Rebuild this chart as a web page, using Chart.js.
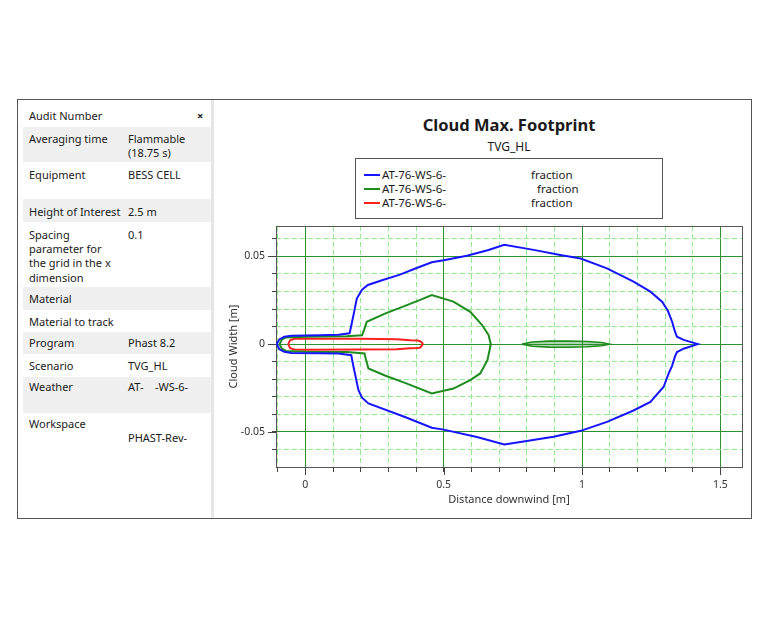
<!DOCTYPE html>
<html>
<head>
<meta charset="utf-8">
<script src="https://cdn.jsdelivr.net/npm/chart.js@4.4.1/dist/chart.umd.min.js"></script>
<style>
  body { margin: 0; background: #fff; font-family: "Noto Sans", sans-serif; color: #1a1a1a; }
  #page { position: relative; width: 768px; height: 618px; }
  #frame { position: absolute; left: 17px; top: 99px; width: 733px; height: 418px; border: 1px solid #555; }
  .row { position: absolute; left: 5px; width: 188px; }
  .row.gray { background: #f0f0f0; }
  .txt { position: absolute; font-size: 11px; line-height: 14.3px; white-space: nowrap; }
  .lbl { width: 92px; white-space: normal; }
  #sep { position: absolute; left: 193px; top: 0; width: 3px; height: 418px; background: #e6e6e6; }
  #title { position: absolute; left: 276px; width: 466px; top: 113px; text-align: center; font-weight: bold; font-size: 16.5px; }
  #subtitle { position: absolute; left: 276px; width: 466px; top: 138px; text-align: center; font-size: 12px; }
  #legend { position: absolute; left: 355px; top: 158px; width: 306px; height: 59px; border: 1px solid #555; }
  .leg { position: absolute; font-size: 11.5px; line-height: 14px; white-space: nowrap; }
  .sw { position: absolute; width: 16px; height: 2px; }
  #chartBox { position: absolute; left: 216px; top: 100px; }
</style>
</head>
<body>
<div id="page">
  <div id="frame"><div id="sep"></div></div>
  <div id="title">Cloud Max. Footprint</div>
  <div id="subtitle">TVG_HL</div>
  <div id="legend"></div>
  <div id="chartBox"><canvas id="footprintChart" width="535" height="417"></canvas></div>
</div>
<script>
// axis ticks (every minor tick gets a dashed grid line, majors are solid and labelled)
const xTickValues = [-0.1, 0, 0.1, 0.2, 0.3, 0.4, 0.5, 0.6, 0.7, 0.8, 0.9, 1, 1.1, 1.2, 1.3, 1.4, 1.5];
const xMajorValues = [0, 0.5, 1, 1.5];
const yTickValues = [-0.06, -0.05, -0.04, -0.03, -0.02, -0.01, 0, 0.01, 0.02, 0.03, 0.04, 0.05, 0.06];
const yMajorValues = [-0.05, 0, 0.05];

// contour of the blue series
const blueX = [-0.103, -0.094, -0.076, -0.05, 0.05, 0.12, 0.16, 0.168, 0.174, 0.186, 0.205, 0.226, 0.28, 0.342, 0.40, 0.457, 0.50, 0.584, 0.662, 0.719,
  0.825, 0.921, 0.995, 1.09, 1.186, 1.247, 1.29, 1.31, 1.325, 1.335, 1.343, 1.367, 1.418,
  1.367, 1.343, 1.336, 1.325, 1.313, 1.295, 1.247, 1.186, 1.09, 0.995, 0.897, 0.80, 0.719, 0.62, 0.50, 0.457, 0.36, 0.228, 0.205, 0.192, 0.174, 0.166,
  0.12, 0.05, -0.05, -0.076, -0.094, -0.103];
const blueY = [0, 0.0027, 0.0042, 0.0048, 0.0050, 0.0053, 0.0062, 0.012, 0.0165, 0.026, 0.031, 0.0337, 0.0365, 0.0396, 0.0432, 0.0466, 0.0478, 0.0503, 0.0536, 0.0566,
  0.0537, 0.0508, 0.0488, 0.0432, 0.0356, 0.0299, 0.024, 0.019, 0.013, 0.0075, 0.0042, 0.0024, 0,
  -0.0026, -0.0045, -0.007, -0.0125, -0.0167, -0.0243, -0.0329, -0.0378, -0.0443, -0.0494, -0.0528, -0.0552, -0.0572, -0.0529, -0.0487, -0.0476, -0.0415, -0.0338, -0.0305, -0.0262, -0.0129, -0.0063,
  -0.0054, -0.0052, -0.005, -0.0044, -0.0029, 0];

// contour of the green series
const greenX = [-0.093, -0.085, -0.07, 0, 0.15, 0.205, 0.212, 0.222, 0.29, 0.36, 0.415, 0.457, 0.535, 0.596, 0.638, 0.662, 0.67,
  0.668, 0.658, 0.632, 0.596, 0.535, 0.457, 0.36, 0.29, 0.228, 0.218, 0.214, 0.15, 0, -0.07, -0.085, -0.093];
const greenY = [0, 0.0025, 0.0038, 0.0042, 0.0045, 0.005, 0.008, 0.0127, 0.0175, 0.0218, 0.0252, 0.028, 0.0242, 0.0184, 0.011, 0.0052, 0,
  -0.0018, -0.0091, -0.0167, -0.0205, -0.0253, -0.0281, -0.0221, -0.018, -0.0139, -0.008, -0.0053, -0.0045, -0.0043, -0.0039, -0.0026, 0];

// detached green patch further downwind
const greenPatchX = [0.783, 0.82, 0.88, 0.95, 1.02, 1.07, 1.10, 1.07, 1.02, 0.95, 0.88, 0.82, 0.783];
const greenPatchY = [0, 0.0012, 0.0017, 0.0018, 0.0015, 0.0009, 0, -0.0009, -0.0015, -0.0018, -0.0017, -0.0012, 0];

// contour of the red series
const redX = [-0.062, -0.055, -0.04, 0, 0.2, 0.33, 0.38, 0.405, 0.415, 0.4235, 0.4235,
  0.415, 0.405, 0.38, 0.33, 0.2, 0, -0.04, -0.055, -0.062];
const redY = [0, 0.0022, 0.003, 0.0031, 0.003, 0.0028, 0.0022, 0.002, 0.0017, 0.0005, -0.0003,
  -0.002, -0.0022, -0.0024, -0.0029, -0.0031, -0.0032, -0.0031, -0.0023, 0];

const seriesNames = ['AT-76-WS-6-', 'AT-76-WS-6-', 'AT-76-WS-6-'];
const seriesColors = ['#1515ff', '#1e8c1e', '#ff1f1f'];

// property table on the left: label, value, row top, row height, gray, text centre, value centre
const tableRows = [
  ['Audit Number', '', 100, 27, false, 116, 116],
  ['Averaging time', 'Flammable\n(18.75 s)', 127, 35, true, 139, 139],
  ['Equipment', 'BESS CELL', 162, 37, false, 175, 175],
  ['Height of Interest', '2.5 m', 199, 23, true, 211.5, 211.5],
  ['Spacing parameter for the grid in the x dimension', '0.1', 222, 65, false, 234.7, 234.7],
  ['Material', '', 287, 23, true, 299, 299],
  ['Material to track', '', 310, 22, false, 321.5, 321.5],
  ['Program', 'Phast 8.2', 332, 22, true, 343.3, 343.3],
  ['Scenario', 'TVG_HL', 354, 23, false, 365.7, 365.7],
  ['Weather', 'AT-    -WS-6-', 377, 36, true, 387.3, 387.3],
  ['Workspace', 'PHAST-Rev-', 413, 104, false, 424, 437.7]
];

function buildTable() {
  const frame = document.getElementById('frame');
  tableRows.forEach(r => {
    const row = document.createElement('div');
    row.className = 'row' + (r[4] ? ' gray' : '');
    row.style.top = (r[2] - 100) + 'px';
    row.style.height = r[3] + 'px';
    frame.appendChild(row);
    const lbl = document.createElement('div');
    lbl.className = 'txt lbl';
    lbl.style.left = '11px';
    lbl.style.top = (r[5] - 7 - 100) + 'px';
    lbl.textContent = r[0];
    frame.appendChild(lbl);
    if (r[1]) {
      const val = document.createElement('div');
      val.className = 'txt';
      val.style.left = '110px';
      val.style.top = (r[6] - 7 - 100) + 'px';
      val.style.whiteSpace = 'pre';
      val.textContent = r[1];
      frame.appendChild(val);
    }
  });
  const close = document.createElement('div');
  close.className = 'txt';
  close.style.left = '179px';
  close.style.top = '9px';
  close.style.fontWeight = 'bold';
  close.textContent = '\u00d7';
  frame.appendChild(close);
}

function buildLegend() {
  const box = document.getElementById('legend');
  const suffixLeft = [175, 181, 175];
  seriesNames.forEach((name, i) => {
    const top = 9 + i * 14.2;
    const sw = document.createElement('div');
    sw.className = 'sw';
    sw.style.left = '8px';
    sw.style.top = (top + 6) + 'px';
    sw.style.background = seriesColors[i];
    box.appendChild(sw);
    const t = document.createElement('div');
    t.className = 'leg';
    t.style.left = '26px';
    t.style.top = top + 'px';
    t.textContent = name;
    box.appendChild(t);
    const f = document.createElement('div');
    f.className = 'leg';
    f.style.left = suffixLeft[i] + 'px';
    f.style.top = top + 'px';
    f.textContent = 'fraction';
    box.appendChild(f);
  });
}

const toPoints = (xs, ys) => xs.map((x, i) => ({ x: x, y: ys[i] }));
const isMajor = (list, v) => list.some(m => Math.abs(m - v) < 1e-9);

const majorGrid = 'rgb(45,145,45)';
const minorGrid = 'rgb(145,236,145)';

const plotFrame = {
  id: 'plotFrame',
  beforeDatasetsDraw(chart) {
    const { ctx, chartArea: a, scales } = chart;
    ctx.save();
    ctx.strokeStyle = '#444';
    ctx.lineWidth = 1;
    // longer tick marks at the labelled values
    ctx.beginPath();
    xMajorValues.forEach(v => {
      const px = Math.round(scales.x.getPixelForValue(v)) + 0.5;
      ctx.moveTo(px, a.bottom);
      ctx.lineTo(px, a.bottom + 8);
    });
    yMajorValues.forEach(v => {
      const py = Math.round(scales.y.getPixelForValue(v)) + 0.5;
      ctx.moveTo(a.left, py);
      ctx.lineTo(a.left - 8, py);
    });
    ctx.stroke();
    ctx.strokeStyle = '#555';
    ctx.strokeRect(Math.round(a.left) + 0.5, Math.round(a.top) + 0.5, Math.round(a.right - a.left), Math.round(a.bottom - a.top));
    ctx.restore();
  }
};

function lineSet(label, xs, ys, color, extra) {
  return Object.assign({
    label: label,
    data: toPoints(xs, ys),
    showLine: true,
    borderColor: color,
    backgroundColor: color,
    borderWidth: 2,
    pointRadius: 0,
    tension: 0,
    fill: false
  }, extra || {});
}

document.addEventListener('DOMContentLoaded', () => {
  buildTable();
  buildLegend();

  const ctx = document.getElementById('footprintChart').getContext('2d');
  new Chart(ctx, {
    type: 'scatter',
    data: {
      datasets: [
        lineSet(seriesNames[0], blueX, blueY, seriesColors[0]),
        lineSet(seriesNames[1], greenX, greenY, seriesColors[1]),
        lineSet(seriesNames[1], greenPatchX, greenPatchY, seriesColors[1], { fill: 'shape', backgroundColor: 'rgba(30,140,30,0.35)', borderWidth: 1.6 }),
        lineSet(seriesNames[2], redX, redY, seriesColors[2])
      ]
    },
    options: {
      responsive: false,
      animation: false,
      devicePixelRatio: 1,
      layout: { padding: { top: 126, right: 9, left: 0, bottom: 0 } },
      plugins: { legend: { display: false }, tooltip: { enabled: false } },
      scales: {
        x: {
          type: 'linear',
          min: -0.106,
          max: 1.578,
          afterBuildTicks: scale => { scale.ticks = xTickValues.map(v => ({ value: v })); },
          afterFit: scale => { scale.height = 50; },
          ticks: {
            autoSkip: false,
            maxRotation: 0,
            padding: 7,
            color: '#333',
            font: { family: 'Noto Sans', size: 10.5 },
            callback: v => isMajor(xMajorValues, v) ? String(v) : ''
          },
          grid: {
            color: c => c.tick && isMajor(xMajorValues, c.tick.value) ? majorGrid : minorGrid,
            tickColor: '#444',
            tickLength: 5,
            lineWidth: 1
          },
          border: { display: false, dash: c => c.tick && !isMajor(xMajorValues, c.tick.value) ? [5, 3] : [] },
          title: {
            display: true,
            text: 'Distance downwind [m]',
            color: '#333',
            font: { family: 'Noto Sans', size: 11 },
            padding: { top: 0, bottom: 11 }
          }
        },
        y: {
          type: 'linear',
          min: -0.07,
          max: 0.0673,
          afterBuildTicks: scale => { scale.ticks = yTickValues.map(v => ({ value: v })); },
          afterFit: scale => { scale.width = 60; },
          ticks: {
            autoSkip: false,
            padding: 7,
            color: '#333',
            font: { family: 'Noto Sans', size: 10.5 },
            callback: v => isMajor(yMajorValues, v) ? String(v) : ''
          },
          grid: {
            color: c => c.tick && isMajor(yMajorValues, c.tick.value) ? majorGrid : minorGrid,
            tickColor: '#444',
            tickLength: 4,
            lineWidth: 1
          },
          border: { display: false, dash: c => c.tick && !isMajor(yMajorValues, c.tick.value) ? [5, 3] : [] },
          title: {
            display: true,
            text: 'Cloud Width [m]',
            color: '#333',
            font: { family: 'Noto Sans', size: 11 },
            padding: { top: 11, bottom: 0 }
          }
        }
      }
    },
    plugins: [plotFrame]
  });
});
</script>
</body>
</html>
